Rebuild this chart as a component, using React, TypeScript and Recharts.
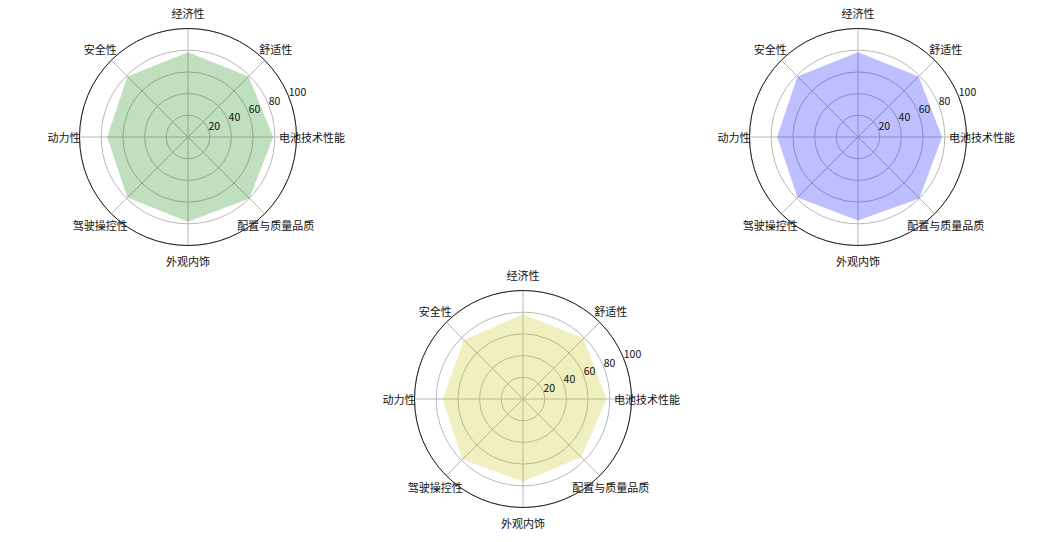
import React from 'react';
import { RadarChart, Radar, PolarGrid, PolarAngleAxis, PolarRadiusAxis } from 'recharts';

const categories = ['电池技术性能', '舒适性', '经济性', '安全性', '动力性', '驾驶操控性', '外观内饰', '配置与质量品质'];
const seriesGreen = [78, 79, 74.5, 79, 78, 80, 78.5, 79];
const seriesBlue = [78, 79, 74.5, 79, 77, 80, 77.5, 79];
const seriesYellow = [78, 77, 74, 79, 76, 76, 77, 79];
const radiusTicks = [20, 40, 60, 80, 100];

const W = 340;
const H = 290;
const CX = 170;
const CY = 145;
const R = 108.5;
const LABEL_R = 124;
const FONT = '"Noto Sans CJK SC", "Noto Sans", sans-serif';

const AngleTick = (props: any) => {
  const { payload } = props;
  const ang = (payload.coordinate * Math.PI) / 180;
  const px = CX + LABEL_R * Math.cos(-ang);
  const py = CY + LABEL_R * Math.sin(-ang);
  return (
    <text x={px} y={py} textAnchor="middle" dominantBaseline="central" fontSize={11} fontFamily={FONT} fill="#111">
      {payload.value}
    </text>
  );
};

const RadiusTick = (props: any) => {
  const { x, y, payload } = props;
  return (
    <text x={x + 0.5} y={y - 3.5} textAnchor="start" dominantBaseline="central" fontSize={10.5} fontFamily={FONT} fill="#111">
      {payload.value}
    </text>
  );
};

function buildData(values: number[]) {
  return categories.map((name, i) => ({ name, value: values[i] }));
}

const SingleRadar = ({ values, color, left, top }: { values: number[]; color: string; left: number; top: number }) => (
  <div style={{ position: 'absolute', left, top, width: W, height: H }}>
    <RadarChart
      width={W}
      height={H}
      data={buildData(values)}
      cx={CX}
      cy={CY}
      outerRadius={R}
      startAngle={45}
      endAngle={405}
      margin={{ top: 0, right: 0, bottom: 0, left: 0 }}
    >
      <Radar dataKey="value" fill={color} fillOpacity={0.25} stroke="none" isAnimationActive={false} />
      <PolarGrid gridType="circle" stroke="#b8b8b8" strokeWidth={1} />
      <PolarGrid gridType="circle" radialLines={false} polarRadius={[R]} polarAngles={[]} stroke="#222" strokeWidth={1} />
      <PolarAngleAxis dataKey="name" tick={<AngleTick />} tickLine={false} axisLine={false} />
      <PolarRadiusAxis
        domain={[0, 100]}
        ticks={radiusTicks}
        angle={22.5}
        axisLine={false}
        tickLine={false}
        tick={<RadiusTick />}
      />
    </RadarChart>
  </div>
);

export default function App() {
  return (
    <div style={{ position: 'absolute', left: 0, top: 0, width: 1042, height: 542, background: '#fff' }}>
      <SingleRadar values={seriesGreen} color="#008000" left={187.7 - CX} top={137.3 - CY} />
      <SingleRadar values={seriesBlue} color="#0000ff" left={857.7 - CX} top={137.3 - CY} />
      <SingleRadar values={seriesYellow} color="#bfbf00" left={522.7 - CX} top={398.7 - CY} />
    </div>
  );
}
